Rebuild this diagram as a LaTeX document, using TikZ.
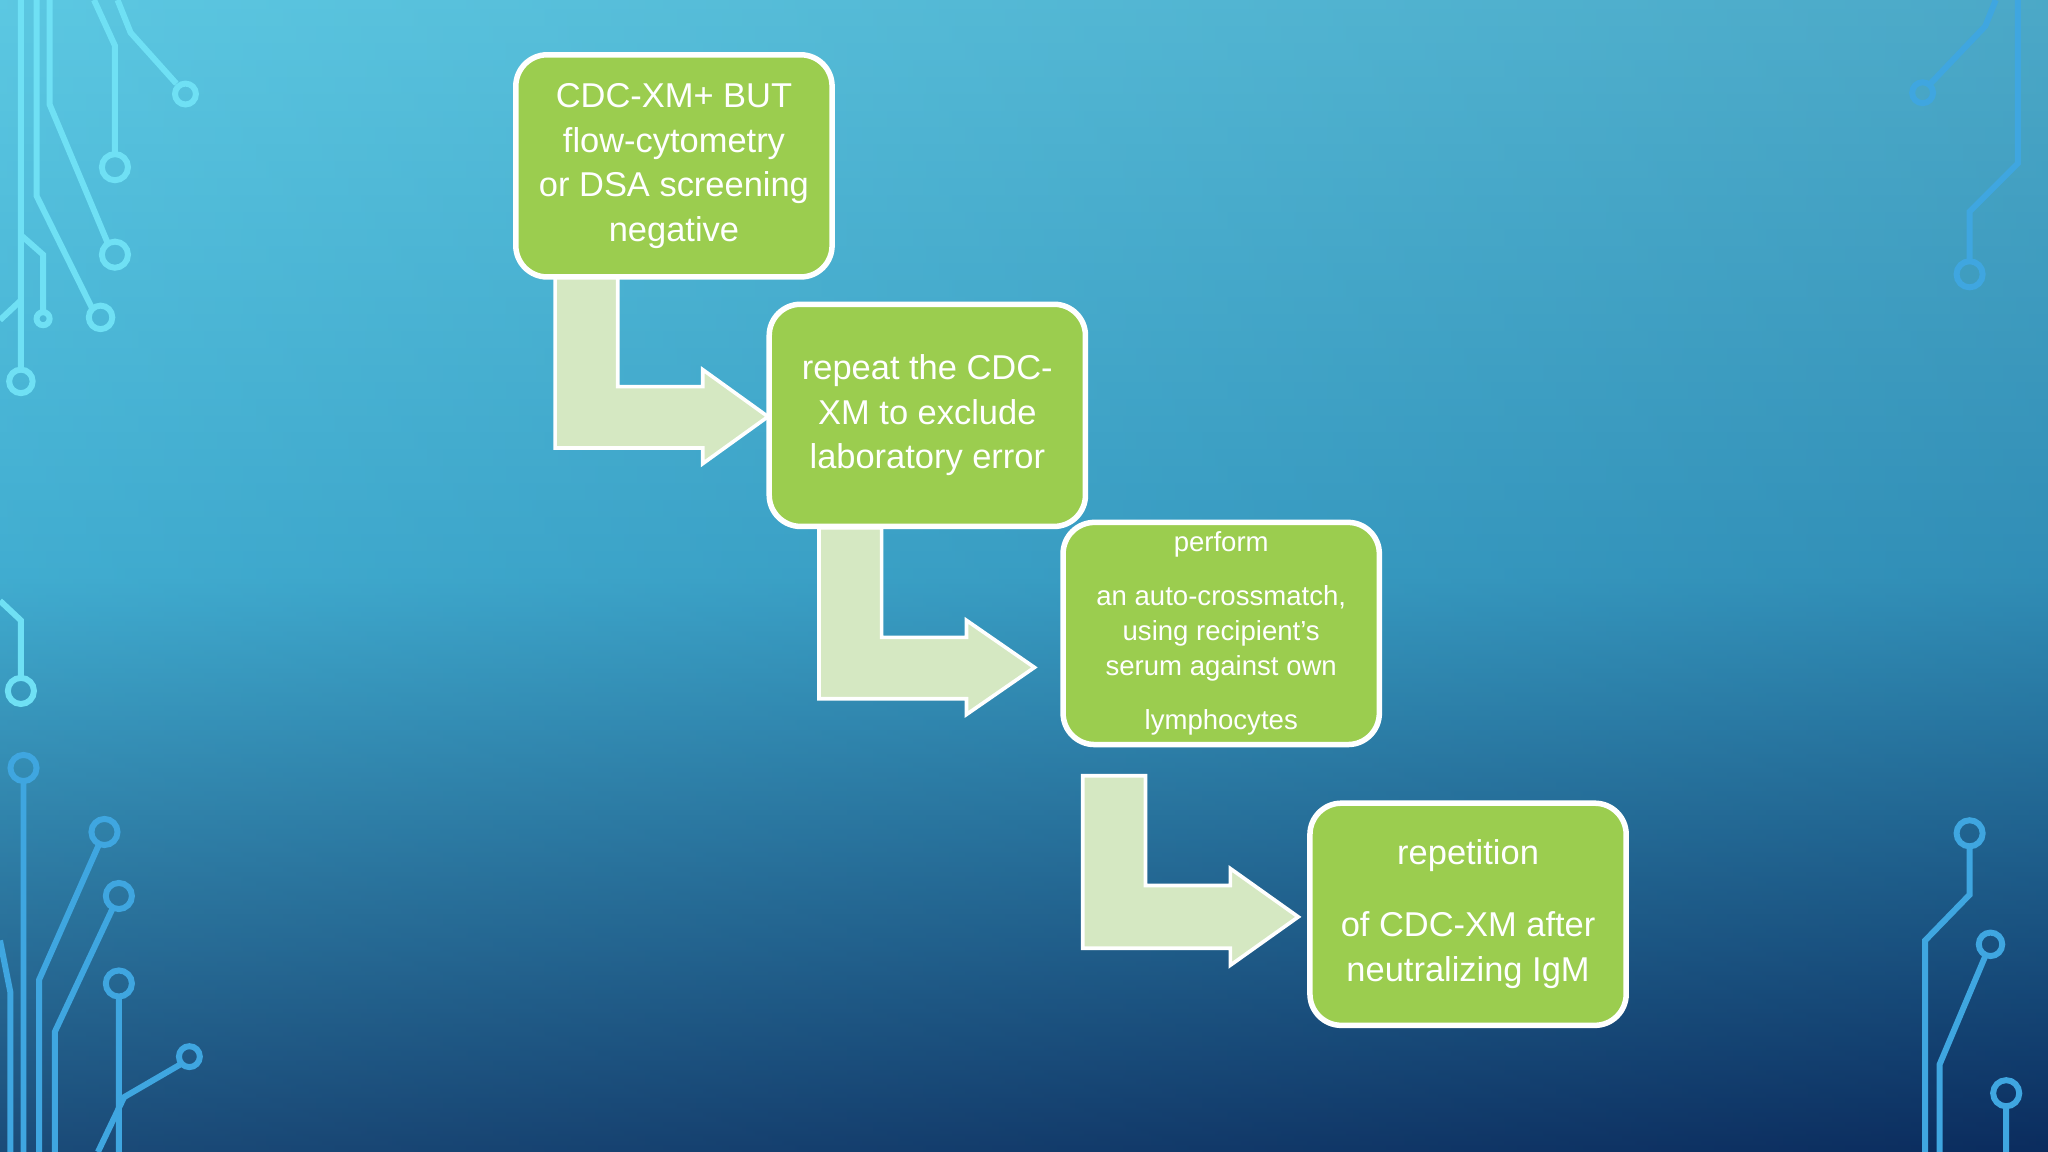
\documentclass[tikz,border=0pt]{standalone}
\usepackage{fontspec}
\setmainfont{Liberation Sans}
\begin{document}
\begin{tikzpicture}[x=0.01cm,y=-0.01cm,
  box/.style={draw=white,line width=1.2pt,fill=boxg,rounded corners=0.24cm,minimum width=2.42cm,minimum height=1.7cm,align=center,text=white,font=\fontsize{7.5}{9.7}\selectfont,inner sep=0pt},
  arr/.style={fill=arrg,draw=white,line width=0.8pt},
  circ/.style={draw=cl,line width=1.3pt},
  cb/.style={draw=cb,line width=1.3pt}]
\definecolor{boxg}{HTML}{9BCD4F}
\definecolor{arrg}{HTML}{D5E8C2}
\definecolor{cl}{HTML}{6FE0F4}
\definecolor{cb}{HTML}{3FA6E0}
\definecolor{bgtop}{HTML}{5CC8E2}
\definecolor{bgmid}{HTML}{3AA6CC}
\definecolor{bgbot}{HTML}{0B2C5E}
\useasboundingbox (0,0) rectangle (1568,882);
\shade[top color=bgtop,bottom color=bgbot,middle color=bgmid] (0,0) rectangle (1568,882);
\shade[left color=bgtop,right color=bgbot,opacity=0.2] (0,0) rectangle (1568,882);
% top-left circuits
\draw[circ] (16,0)--(16,283) (16,292) circle (9);
\draw[circ] (28,0)--(28,150)--(70,235) (77,243) circle (9);
\draw[circ] (38,0)--(38,80)--(82,185) (88,195) circle (10);
\draw[circ] (72,0)--(88,35)--(88,118) (88,128) circle (10);
\draw[circ] (90,0)--(100,25)--(135,64) (142,72) circle (8);
\draw[circ] (16,180)--(33,195)--(33,238) (33,244) circle (5);
\draw[circ] (0,245)--(16,230);
% left middle
\draw[circ] (0,460)--(16,475)--(16,520) (16,529) circle (10);
% bottom-left
\draw[cb] (18,598)--(18,882) (18,588) circle (10);
\draw[cb] (0,720)--(8,760)--(8,882);
\draw[cb] (30,882)--(30,750)--(76,646) (80,637) circle (10);
\draw[cb] (42,882)--(42,790)--(86,696) (91,686) circle (10);
\draw[cb] (91,763)--(91,882) (91,753) circle (10);
\draw[cb] (75,882)--(95,840)--(138,815) (145,809) circle (8);
% top-right
\draw[cb] (1528,0)--(1520,20)--(1478,64) (1472,71) circle (8);
\draw[cb] (1545,0)--(1545,125)--(1508,162)--(1508,200) (1508,210) circle (10);
% bottom-right
\draw[cb] (1508,648)--(1508,685)--(1474,720)--(1474,882) (1508,638) circle (10);
\draw[cb] (1520,732)--(1485,815)--(1485,882) (1524,723) circle (9);
\draw[cb] (1536,847)--(1536,882) (1536,837) circle (10);
% arrows
\draw[arr] (425,212)--(473,212)--(473,296)--(538,296)--(538,283)--(588,319)--(538,355)--(538,343)--(425,343)--cycle;
\draw[arr] (627,404)--(675,404)--(675,488)--(740,488)--(740,475)--(792,511)--(740,547)--(740,535)--(627,535)--cycle;
\draw[arr] (829,594)--(877,594)--(877,678)--(942,678)--(942,665)--(994,702)--(942,739)--(942,726)--(829,726)--cycle;
% boxes
\node[box] (b1) at (516,127) {CDC-XM+ BUT\\flow-cytometry\\or DSA screening\\negative};
\node[box] (b2) at (710,318) {repeat the CDC-\\XM to exclude\\laboratory error};
\node[box,font=\fontsize{6}{7.7}\selectfont] (b3) at (935,485) {perform\\[4pt]an auto-crossmatch,\\using recipient's\\serum against own\\[4pt]lymphocytes};
\node[box] (b4) at (1124,700) {repetition\\[6pt]of CDC-XM after\\neutralizing IgM};
\end{tikzpicture}
\end{document}
